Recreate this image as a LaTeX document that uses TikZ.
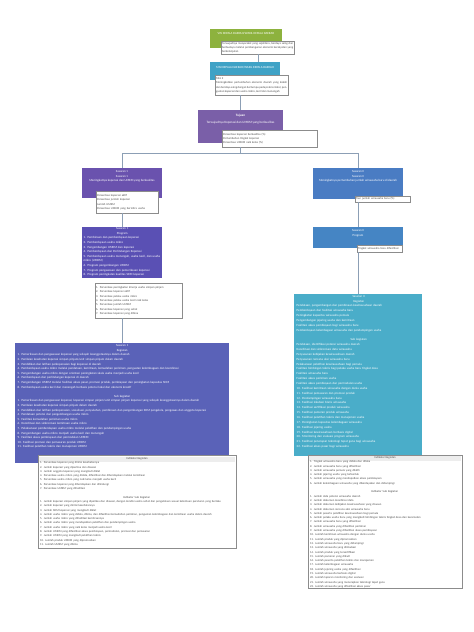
\documentclass[tikz,border=0pt]{standalone}
\usepackage{fontspec}
\setmainfont{Carlito}
\usetikzlibrary{shadows}
\definecolor{cgreen}{HTML}{8DB23E}
\definecolor{cblue}{HTML}{3FA2C6}
\definecolor{ctuj}{HTML}{7A5FA8}
\definecolor{csasL}{HTML}{6A52AE}
\definecolor{csasR}{HTML}{4A7CC3}
\definecolor{cprogL}{HTML}{5A50B4}
\definecolor{cprogR}{HTML}{4585C4}
\definecolor{cteal}{HTML}{4AADC9}
\definecolor{cbig}{HTML}{5A62B8}
\definecolor{cline}{HTML}{8C9FB5}
\definecolor{ctext}{HTML}{4A4A4A}
\newcommand\myfA{\fontsize{3.1}{4.6}\selectfont}
\newcommand\myfB{\fontsize{3.1}{4.85}\selectfont}
\newcommand\myfC{\fontsize{2.9}{4.3}\selectfont}
\tikzset{
  x=1pt,y=-1pt,
  panel/.style={rectangle, inner sep=0pt, anchor=north west, draw=none},
  callout/.style={rectangle, inner sep=1pt, anchor=north west, fill=white, draw=black!45, line width=0.35pt,
     text=ctext, font=\myfC, drop shadow={shadow xshift=0.8pt, shadow yshift=-0.8pt, opacity=0.3}},
  txt/.style={anchor=north west, inner sep=0pt, font=\myfA, align=left, text=ctext},
  wtxt/.style={txt, text=white},
  conn/.style={draw=cline, line width=0.6pt},
}
\begin{document}
\begin{tikzpicture}
\useasboundingbox (0,0) rectangle (474,632);
\fill[white] (0,0) rectangle (474,632);

% ---------- VISI ----------
\node[panel, fill=cgreen, minimum width=72pt, minimum height=19pt] (visi) at (210,29) {};
\node[wtxt, anchor=north, align=center] (visiT) at (246,32.5) {VISI KEPALA DAERAH/WAKIL KEPALA DAERAH};
\node[callout, text width=71pt, minimum height=13pt, align=justify] (visiC) at (221,41)
 {Terwujudnya masyarakat yang sejahtera, berdaya saing dan berbudaya melalui pembangunan ekonomi kerakyatan yang berkelanjutan};

% ---------- MISI ----------
\node[panel, fill=cblue, minimum width=70pt, minimum height=18pt] (misi) at (210,62) {};
\node[wtxt, anchor=north, align=center] (misiT) at (245,66.5) {MISI KEPALA DAERAH/WAKIL KEPALA DAERAH};
\node[callout, text width=71pt, minimum height=20pt, align=justify] (misiC) at (215,75)
 {Misi 2\par Meningkatkan pertumbuhan ekonomi daerah yang kokoh dan berdaya saing dengan bertumpu pada potensi lokal, penguatan koperasi dan usaha mikro, kecil dan menengah};

% ---------- TUJUAN ----------
\node[panel, fill=ctuj, minimum width=85pt, minimum height=33pt] (tuj) at (198,110) {};
\node[wtxt, anchor=north, align=center, font=\fontsize{3.3}{4.6}\selectfont\bfseries] (tujT) at (240.5,114) {Tujuan};
\node[wtxt, anchor=north, align=center, font=\fontsize{3.3}{4.6}\selectfont] (tujS) at (240.5,121.5) {Terwujudnya Koperasi dan UMKM yang berkualitas};
\node[callout, text width=93pt, minimum height=17pt, align=left] (tujC) at (222,130)
 {Persentase koperasi berkualitas (\%)\\ Pertumbuhan tingkat koperasi\\ Persentase UMKM naik kelas (\%)};

% ---------- SASARAN ----------
\node[panel, fill=csasL, minimum width=80pt, minimum height=30pt] (sasL) at (82,168) {};
\node[wtxt, anchor=north, align=center] (sasLT) at (122,170.5)
 {Sasaran 1\\ Sasaran 1\\ Meningkatnya koperasi dan UMKM yang berkualitas};
\node[callout, text width=60pt, minimum height=22pt, align=left] (sasLC) at (96,191)
 {Persentase koperasi aktif\\ Persentase jumlah koperasi\\ Jumlah UMKM\\ Persentase UMKM yang bermitra usaha};

\node[panel, fill=csasR, minimum width=90pt, minimum height=31pt] (sasR) at (313,168) {};
\node[wtxt, anchor=north, align=center] (sasRT) at (358,170.5)
 {Sasaran II\\ Sasaran II\\ Meningkatnya pertumbuhan jumlah wirausaha baru di daerah};
\node[callout, text width=53pt, minimum height=6pt, inner sep=0.8pt, align=left] (sasRC) at (355,196)
 {Tren jumlah wirausaha baru (\%)};

% ---------- PROGRAM ----------
\node[panel, fill=cprogL, minimum width=80pt, minimum height=51pt] (progL) at (82,227) {};
\node[wtxt, text width=77pt] (progLT) at (83.5,227.5)
 {{\centering Sasaran 1\par Program\par}
  1. Pembinaan dan pemberdayaan koperasi\par
  2. Pemberdayaan usaha mikro\par
  3. Pengembangan UMKM dan koperasi\par
  4. Pemberdayaan dan Perlindungan Koperasi\par
  5. Pemberdayaan usaha menengah, usaha kecil, dan usaha mikro (UMKM)\par
  6. Program pengembangan UMKM\par
  7. Program pengawasan dan pemeriksaan koperasi\par
  8. Program peningkatan kualitas SDM koperasi};
\node[callout, text width=85pt, minimum height=35pt, align=left] (progLC) at (95,283)
 {1. Persentase peningkatan kinerja usaha simpan pinjam\\
  2. Persentase koperasi aktif\\
  3. Persentase pelaku usaha mikro\\
  4. Persentase pelaku usaha kecil naik kelas\\
  5. Persentase jumlah UMKM\\
  6. Persentase koperasi yang sehat\\
  7. Persentase koperasi yang dibina};

\node[panel, fill=cprogR, minimum width=90pt, minimum height=21pt] (progR) at (313,227) {};
\node[wtxt, anchor=north, align=center] (progRT) at (358,229.5) {Sasaran II\\ Program};
\node[callout, text width=43pt, minimum height=7pt, inner sep=0.8pt, align=left] (progRC) at (357,245)
 {Tingkat wirausaha baru difasilitasi};

% ---------- KEGIATAN RIGHT (teal) ----------
\node[panel, fill=cteal, minimum width=128pt, minimum height=162pt] (teal) at (294,294) {};
\node[wtxt, text width=124pt, font=\myfB] (tealT) at (296.5,295)
 {{\centering Sasaran II\par Kegiatan\par}
  Pendataan, pengembangan dan pembinaan kewirausahaan daerah\par
  Pemberdayaan dan fasilitasi wirausaha baru\par
  Peningkatan kapasitas wirausaha pemula\par
  Pengembangan jejaring usaha dan kemitraan\par
  Fasilitasi akses pembiayaan bagi wirausaha baru\par
  Pemberdayaan kelembagaan wirausaha dan pendampingan usaha\par
  \vspace{4.85pt}
  {\centering Sub kegiatan\par}
  Pendataan, identifikasi potensi wirausaha daerah\par
  Koordinasi dan sinkronisasi data wirausaha\par
  Penyusunan kebijakan kewirausahaan daerah\par
  Penyusunan rencana aksi wirausaha baru\par
  Pelaksanaan pelatihan kewirausahaan bagi pemula\par
  Fasilitasi bimbingan teknis bagi pelaku usaha baru tingkat desa\par
  Fasilitasi wirausaha baru\par
  Fasilitasi akses perizinan usaha\par
  Fasilitasi akses pembiayaan dan permodalan usaha\par
  10. Fasilitasi kemitraan wirausaha dengan dunia usaha\par
  11. Fasilitasi pemasaran dan promosi produk\par
  12. Pendampingan wirausaha baru\par
  13. Fasilitasi inkubasi bisnis wirausaha\par
  14. Fasilitasi sertifikasi produk wirausaha\par
  15. Fasilitasi pameran produk wirausaha\par
  16. Fasilitasi pelatihan teknis dan manajemen usaha\par
  17. Peningkatan kapasitas kelembagaan wirausaha\par
  18. Fasilitasi jejaring usaha\par
  19. Fasilitasi kewirausahaan berbasis digital\par
  20. Monitoring dan evaluasi program wirausaha\par
  21. Fasilitasi penerapan teknologi tepat guna bagi wirausaha\par
  22. Fasilitasi akses pasar bagi wirausaha};

% ---------- KEGIATAN LEFT (big) ----------
\node[panel, fill=cbig, minimum width=214pt, minimum height=120pt] (bigL) at (15,343) {};
\node[wtxt, text width=209pt] (bigLT) at (17.5,344.5)
 {{\centering Sasaran 1\par Kegiatan\par}
  1. Pemeriksaan dan pengawasan koperasi yang wilayah keanggotaannya dalam daerah\par
  2. Penilaian kesehatan koperasi simpan pinjam/unit simpan pinjam dalam daerah\par
  3. Pendidikan dan latihan perkoperasian bagi koperasi di daerah\par
  4. Pemberdayaan usaha mikro melalui pendataan, kemitraan, kemudahan perizinan, penguatan kelembagaan dan koordinasi\par
  5. Pengembangan usaha mikro dengan orientasi peningkatan skala usaha menjadi usaha kecil\par
  6. Pemberdayaan dan perlindungan koperasi di daerah\par
  7. Pengembangan UMKM melalui fasilitasi akses pasar, promosi produk, pembiayaan dan peningkatan kapasitas SDM\par
  8. Pemberdayaan usaha kecil dan menengah berbasis potensi lokal dan ekonomi kreatif\par
  \vspace{4.6pt}
  {\centering Sub kegiatan\par}
  1. Pemeriksaan dan pengawasan koperasi, koperasi simpan pinjam/unit simpan pinjam koperasi yang wilayah keanggotaannya dalam daerah\par
  2. Penilaian kesehatan koperasi simpan pinjam dalam daerah\par
  3. Pendidikan dan latihan perkoperasian, sosialisasi, penyuluhan, pembinaan dan pengembangan SDM pengelola, pengawas dan anggota koperasi\par
  4. Pendataan potensi dan pengembangan usaha mikro\par
  5. Fasilitasi kemudahan perizinan usaha mikro\par
  6. Koordinasi dan sinkronisasi kemitraan usaha mikro\par
  7. Pelaksanaan pemberdayaan usaha mikro melalui pelatihan dan pendampingan usaha\par
  8. Pengembangan usaha mikro menjadi usaha kecil dan menengah\par
  9. Fasilitasi akses pembiayaan dan permodalan UMKM\par
  10. Fasilitasi promosi dan pemasaran produk UMKM\par
  11. Fasilitasi pelatihan teknis dan manajemen UMKM};

% ---------- INDIKATOR LEFT ----------
\node[callout, minimum width=198pt, minimum height=93pt, inner sep=0pt] (indL) at (38,455) {};
\node[panel, fill=black!7, minimum width=196pt, minimum height=5pt] (indLh) at (39,456.5) {};
\node[txt, anchor=north, font=\myfC] (indLhT) at (137,457) {Indikator Kegiatan};
\node[txt, text width=193pt, font=\myfC] (indLT) at (40,461.5)
 {1. Persentase koperasi yang dinilai kesehatannya\par
  2. Jumlah koperasi yang diperiksa dan diawasi\par
  3. Jumlah anggota koperasi yang mengikuti diklat\par
  4. Persentase usaha mikro yang didata, difasilitasi dan diberdayakan melalui kemitraan\par
  5. Persentase usaha mikro yang naik kelas menjadi usaha kecil\par
  6. Persentase koperasi yang diberdayakan dan dilindungi\par
  7. Persentase UMKM yang difasilitasi\par
  \vspace{4.3pt}
  {\centering Indikator Sub Kegiatan\par}
  1. Jumlah koperasi simpan pinjam yang diperiksa dan diawasi, dengan kondisi usaha sehat dan pengelolaan sesuai ketentuan peraturan yang berlaku\par
  2. Jumlah koperasi yang dinilai kesehatannya\par
  3. Jumlah SDM koperasi yang mengikuti diklat\par
  4. Jumlah usaha mikro yang didata, dibina, dan difasilitasi kemudahan perizinan, penguatan kelembagaan dan kemitraan usaha dalam daerah\par
  5. Jumlah usaha mikro yang difasilitasi kemitraannya\par
  6. Jumlah usaha mikro yang mendapatkan pelatihan dan pendampingan usaha\par
  7. Jumlah usaha mikro yang naik kelas menjadi usaha kecil\par
  8. Jumlah UMKM yang difasilitasi akses pembiayaan, permodalan, promosi dan pemasaran\par
  9. Jumlah UMKM yang mengikuti pelatihan teknis\par
  10. Jumlah produk UMKM yang dipromosikan\par
  11. Jumlah UMKM yang dibina};

% ---------- INDIKATOR RIGHT ----------
\node[callout, minimum width=154pt, minimum height=133pt, inner sep=0pt] (indR) at (308,455) {};
\node[panel, fill=black!7, minimum width=152pt, minimum height=5pt] (indRh) at (309,456) {};
\node[txt, anchor=north, font=\myfC] (indRhT) at (385,456.5) {Indikator Kegiatan};
\node[txt, text width=149pt, font=\myfC] (indRT) at (310,460.5)
 {1. Tingkat wirausaha baru yang didata dan dibina\par
  2. Jumlah wirausaha baru yang difasilitasi\par
  3. Jumlah wirausaha pemula yang dilatih\par
  4. Jumlah jejaring usaha yang terbentuk\par
  5. Jumlah wirausaha yang mendapatkan akses pembiayaan\par
  6. Jumlah kelembagaan wirausaha yang diberdayakan dan didampingi\par
  \vspace{4.3pt}
  {\centering Indikator Sub Kegiatan\par}
  1. Jumlah data potensi wirausaha daerah\par
  2. Jumlah dokumen koordinasi data\par
  3. Jumlah dokumen kebijakan kewirausahaan yang disusun\par
  4. Jumlah dokumen rencana aksi wirausaha baru\par
  5. Jumlah peserta pelatihan kewirausahaan bagi pemula\par
  6. Jumlah pelaku usaha baru yang mengikuti bimbingan teknis tingkat desa dan kecamatan\par
  7. Jumlah wirausaha baru yang difasilitasi\par
  8. Jumlah wirausaha yang difasilitasi perizinan\par
  9. Jumlah wirausaha yang difasilitasi akses pembiayaan\par
  10. Jumlah kemitraan wirausaha dengan dunia usaha\par
  11. Jumlah produk yang dipromosikan\par
  12. Jumlah wirausaha baru yang didampingi\par
  13. Jumlah wirausaha yang diinkubasi\par
  14. Jumlah produk yang tersertifikasi\par
  15. Jumlah pameran yang diikuti\par
  16. Jumlah peserta pelatihan teknis dan manajemen\par
  17. Jumlah kelembagaan wirausaha\par
  18. Jumlah jejaring usaha yang difasilitasi\par
  19. Jumlah wirausaha berbasis digital\par
  20. Jumlah laporan monitoring dan evaluasi\par
  21. Jumlah wirausaha yang menerapkan teknologi tepat guna\par
  22. Jumlah wirausaha yang difasilitasi akses pasar};

% ---------- CONNECTORS ----------
\coordinate (xg) at (258,0);
\coordinate (jT) at (240,153);
\coordinate (jL) at (122,153);
\coordinate (jR) at (358,153);
\draw[conn] (visiC.south -| xg) -- (misi.north -| xg);
\draw[conn] (misiC.south -| jT) -- (tuj.north -| jT);
\draw[conn] (tujC.south -| jT) -- (jT);
\draw[conn] (jL) -- (jR);
\draw[conn] (jL) -- (sasL.north -| jL);
\draw[conn] (jR) -- (sasR.north -| jR);
\draw[conn] (sasLC.south -| jL) -- (progL.north -| jL);
\draw[conn] (sasRC.south -| jR) -- (progR.north -| jR);
\draw[conn] (progLC.south -| jL) -- (bigL.north -| jL);
\draw[conn] (progRC.south -| jR) -- (teal.north -| jR);
\end{tikzpicture}
\end{document}
